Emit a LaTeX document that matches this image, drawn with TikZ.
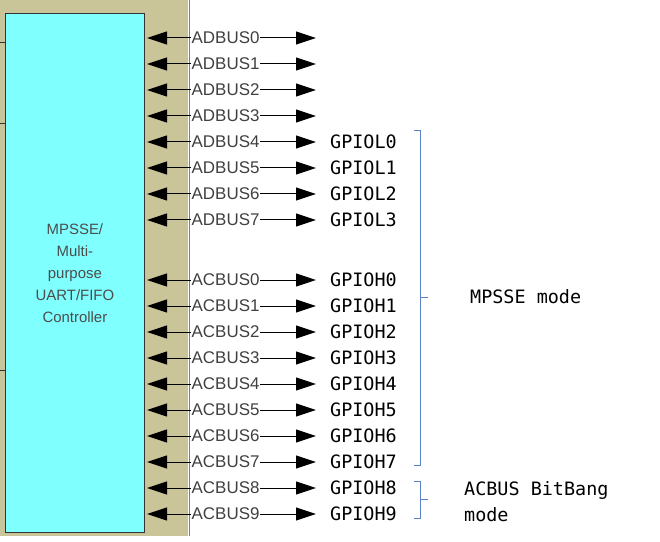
\documentclass[tikz,border=0pt]{standalone}
\usepackage{fontspec}
\setmainfont{Liberation Sans}
\newfontfamily\monof{DejaVu Sans Mono}
\usetikzlibrary{arrows.meta}
\definecolor{tan}{RGB}{201,197,152}
\definecolor{cy}{RGB}{128,255,255}
\definecolor{brk}{RGB}{90,130,200}
\begin{document}
\begin{tikzpicture}[x=1bp,y=-1bp,
  pin/.style={font=\fontsize{17}{18}\selectfont, text=black!75, inner sep=0.5bp, anchor=west},
  gp/.style={font=\monof\fontsize{18.5}{19}\selectfont, inner sep=0, anchor=west},
  arr/.style={-{Triangle[length=20bp,width=13bp]}, line width=1bp},
  brace/.style={brk, line width=0.8bp},
  note/.style={font=\monof\fontsize{18.5}{25}\selectfont, anchor=west, align=left, inner sep=0}]
\useasboundingbox (0,0) rectangle (660,542);
\fill[tan] (0,0) rectangle (188,536);
\draw[brk, line width=0.8bp] (189,0) -- (189,536);
\node[draw=black!80, fill=cy, line width=0.8bp, minimum width=139bp, minimum height=519bp, anchor=north west, inner sep=0,
  font=\fontsize{15}{22}\selectfont, text=black!70, align=center] (chip) at (5,13) {MPSSE/\\Multi-\\purpose\\UART/FIFO\\Controller};
\foreach \yy [count=\i] in {42,123,370}{\draw[black!80] (0,\yy) -- (5,\yy);}
\foreach \n [count=\i from 0] in {0,...,7}{
  \pgfmathsetmacro\yy{38+26*\i}
  \node[pin] (ad\n) at (191,\yy) {ADBUS\n};
  \coordinate (adl\n) at (147,\yy);
  \coordinate (adr\n) at (316,\yy);
  \draw[arr] (ad\n.west) -- (adl\n);
  \draw[arr] (ad\n.east) -- (adr\n);
}
\foreach \n [count=\i from 0] in {0,...,9}{
  \pgfmathsetmacro\yy{280+26*\i}
  \node[pin] (ac\n) at (191,\yy) {ACBUS\n};
  \coordinate (acl\n) at (147,\yy);
  \coordinate (acr\n) at (316,\yy);
  \draw[arr] (ac\n.west) -- (acl\n);
  \draw[arr] (ac\n.east) -- (acr\n);
  \node[gp] (gh\n) at (330,\yy) {GPIOH\n};
}
\foreach \n [count=\i from 0] in {0,...,3}{
  \pgfmathsetmacro\yy{142+26*\i}
  \node[gp] (gl\n) at (330,\yy) {GPIOL\n};
}
\draw[brace] (414,130) -- (420,130) -- (420,465) -- (414,465);
\draw[brace] (420,297) -- (428,297);
\draw[brace] (414,481) -- (420,481) -- (420,518) -- (414,518);
\draw[brace] (420,499) -- (428,499);
\node[note] (m1) at (470,297) {MPSSE mode};
\node[note, anchor=west] (m2) at (464,490) {ACBUS BitBang};
\node[note, anchor=west] (m3) at (464,515) {mode};
\end{tikzpicture}
\end{document}
